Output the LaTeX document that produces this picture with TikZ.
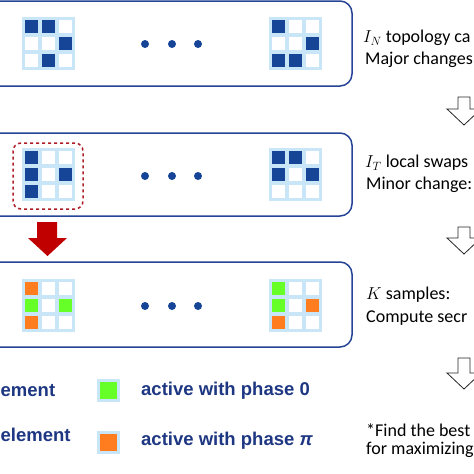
\documentclass[tikz,border=0pt]{standalone}
\usepackage{fontspec}
\setmainfont{Carlito}
\newfontfamily\legendfont{Liberation Sans}
\definecolor{boxblue}{RGB}{38,68,150}
\definecolor{cellblue}{RGB}{22,68,150}
\definecolor{gridbg}{RGB}{200,230,248}
\definecolor{actgreen}{RGB}{102,255,40}
\definecolor{actorange}{RGB}{255,125,30}
\definecolor{arrowred}{RGB}{192,0,0}
\definecolor{dashred}{RGB}{175,30,40}
\definecolor{legendblue}{RGB}{30,55,130}
\newcommand{\cellgrid}[3]{%
  \fill[gridbg] (#1,#2) rectangle ++(53,53);
  \foreach \c [count=\i from 0] in {#3} {
    \pgfmathtruncatemacro{\gcol}{mod(\i,3)}
    \pgfmathtruncatemacro{\grow}{div(\i,3)}
    \fill[\c] ({#1+3+17*\gcol},{#2+3+17*\grow}) rectangle ++(12.5,12.5);
  }}
\tikzset{
  panel/.style={draw=boxblue, line width=1.5pt, rounded corners=12pt},
  rtext/.style={anchor=west, inner sep=0pt, font=\fontsize{18}{22}\selectfont},
  legtext/.style={anchor=west, inner sep=0pt, text=legendblue, font=\legendfont\bfseries\fontsize{18.5}{22}\selectfont},
  hollowarrow/.style={draw=black!85, line width=0.8pt, fill=white, line join=miter},
  dotstyle/.style={fill=cellblue}
}
\begin{document}
\begin{tikzpicture}[x=1pt,y=-1pt]
\useasboundingbox (0,0) rectangle (474,474);
\clip (0,0) rectangle (474,474);
\fill[white] (0,0) rectangle (474,474);

% panels
\draw[panel] (-40,1) rectangle (352,86);
\draw[panel] (-40,133) rectangle (352,216);
\draw[panel] (-40,262) rectangle (352,347);

% row 1 grids
\cellgrid{22}{17}{cellblue,cellblue,white,white,white,cellblue,white,cellblue,white}
\cellgrid{269}{17}{cellblue,white,white,white,white,cellblue,cellblue,cellblue,white}
% row 2 grids
\cellgrid{22}{148}{cellblue,white,white,cellblue,white,cellblue,cellblue,white,white}
\cellgrid{269}{148}{cellblue,cellblue,white,cellblue,white,cellblue,white,white,white}
% row 3 grids
\cellgrid{22}{279}{actorange,white,white,actgreen,white,actgreen,actorange,white,white}
\cellgrid{269}{279}{actgreen,white,white,actgreen,white,actorange,actorange,white,white}

% dots
\foreach \yy in {44,176,306} {
  \foreach \xx in {145,172,198} {
    \fill[dotstyle] (\xx,\yy) circle (4);
  }
}

% dashed selection
\node[draw=dashred, dashed, line width=1.5pt, rounded corners=8pt, minimum width=70pt, minimum height=66pt, inner sep=0pt] (sel) at (48,176) {};

% red block arrow
\fill[arrowred] (37,222) -- (57,222) -- (57,238) -- (67,238) -- (47.5,256) -- (28,238) -- (37,238) -- cycle;

% hollow arrows on the right
\draw[hollowarrow] (458,97) -- (458,109) -- (447,109) -- (464,125) -- (481,109) -- (470,109) -- (470,97) -- cycle;
\draw[hollowarrow] (458,227) -- (458,238) -- (447,238) -- (464,254) -- (481,238) -- (470,238) -- (470,227) -- cycle;
\draw[hollowarrow] (458,358) -- (458,373) -- (447,373) -- (464,389) -- (481,373) -- (470,373) -- (470,358) -- cycle;

% right texts
\node[rtext] (t1a) at (363,38) {$I_N$ topology ca};
\node[rtext] (t1b) at (365,60) {Major changes};
\node[rtext] (t2a) at (365,163) {$I_T$ local swaps};
\node[rtext] (t2b) at (366,185) {Minor change:};
\node[rtext] (t3a) at (366,295) {$K$ samples:};
\node[rtext] (t3b) at (366,318) {Compute secr};
\node[rtext] (t4a) at (366,430) {*Find the best};
\node[rtext] (t4b) at (366,450) {for maximizing};

% legend
\node[legtext] (l1) at (0.5,391) {ement};
\node[legtext] (l2) at (0.5,435) {element};
\fill[gridbg] (97,379) rectangle (120,402);
\fill[actgreen] (100,382) rectangle (117,399);
\fill[gridbg] (97,431) rectangle (120,454);
\fill[actorange] (100,434) rectangle (117,451);
\node[legtext] (l3) at (141,391) {active with phase 0};
\node[legtext] (l4) at (141,441) {active with phase {\itshape π}};
\end{tikzpicture}
\end{document}
